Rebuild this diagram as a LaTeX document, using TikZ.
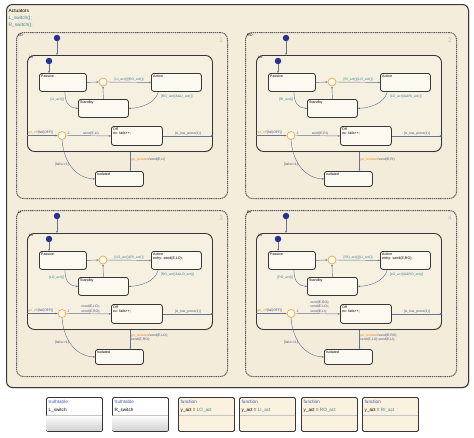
\documentclass[tikz,border=0pt]{standalone}
\usepackage{fontspec}
\setmainfont{Liberation Sans}
\usetikzlibrary{arrows.meta,shadows}
\definecolor{outerfill}{RGB}{245,237,220}
\definecolor{panelfill}{RGB}{244,236,218}
\definecolor{lonefill}{RGB}{246,240,225}
\definecolor{statefill}{RGB}{252,249,240}
\definecolor{sborder}{RGB}{55,55,55}
\definecolor{trcol}{RGB}{105,115,150}
\definecolor{condcol}{RGB}{55,135,145}
\definecolor{actcol}{RGB}{75,85,125}
\definecolor{evcol}{RGB}{225,145,35}
\definecolor{dotcol}{RGB}{40,50,145}
\definecolor{junccol}{RGB}{230,160,60}
\definecolor{juncfill}{RGB}{255,250,232}
\definecolor{numcol}{RGB}{195,195,195}
\definecolor{kwblue}{RGB}{60,90,170}
\definecolor{funcfill}{RGB}{250,241,222}
\tikzset{
 outerbox/.style={draw=sborder, line width=1pt, fill=outerfill, rounded corners=6pt, anchor=north west, inner sep=0pt,
   drop shadow={shadow xshift=0.8pt, shadow yshift=-0.8pt, opacity=0.35}},
 panelbox/.style={draw=sborder!80, dash pattern=on 1.4pt off 0.7pt, line width=1pt, fill=panelfill, rounded corners=7pt, anchor=north west, inner sep=0pt},
 lonebox/.style={draw=sborder, line width=0.9pt, fill=lonefill, rounded corners=7pt, anchor=north west, inner sep=0pt,
   drop shadow={shadow xshift=0.6pt, shadow yshift=-0.6pt, opacity=0.3}},
 sfstate/.style={draw=sborder, line width=0.8pt, fill=statefill, rounded corners=2.5pt, anchor=north west, inner sep=0pt,
   drop shadow={shadow xshift=0.5pt, shadow yshift=-0.5pt, opacity=0.3}},
 sname/.style={anchor=north west, inner sep=1pt, xshift=1pt, yshift=-0.3pt, font=\fontsize{3.6}{4.4}\selectfont, align=left, text=black},
 lab/.style={font=\fontsize{3.4}{4.2}\selectfont, inner sep=0.6pt, align=left},
 tr/.style={draw=trcol, line width=0.45pt, -{Stealth[length=2.2pt,width=1.8pt]}},
 junc/.style={circle, draw=junccol, line width=0.6pt, fill=juncfill, minimum size=8pt, inner sep=0pt},
 dflt/.style={circle, fill=dotcol, minimum size=6.5pt, inner sep=0pt},
 numlab/.style={font=\fontsize{7}{8}\selectfont, text=numcol, inner sep=0pt},
 hdr/.style={font=\fontsize{4.8}{5.6}\selectfont, inner sep=0pt, anchor=west},
 ttb/.style={draw=sborder, line width=0.9pt, fill=white, rounded corners=1.5pt, anchor=north west, inner sep=0pt},
 fnb/.style={draw=sborder, line width=0.9pt, fill=funcfill, rounded corners=1.5pt, anchor=north west, inner sep=0pt},
 bt/.style={font=\fontsize{4.6}{5.4}\selectfont, inner sep=0pt, anchor=west},
 sepline/.style={draw=gray!45, line width=0.4pt}
}
% #1 dx, #2 dy, #3 name, #4 number, #5 top cond, #6 active->standby cond, #7 passive->standby cond, #8 active text, #9 send label; \lowlab lower label
\newcommand\sfpanel[9]{%
\begin{scope}[shift={(#1,#2)}]
\node[panelbox, minimum width=211pt, minimum height=166pt, label={[sname]north west:#3}] (#3-p) at (16,32) {};
\node[numlab] (#3-n) at (221,40) {#4};
\node[lonebox, minimum width=185pt, minimum height=96pt, label={[sname]north west:L1}] (#3-L1) at (27,55) {};
\node[dflt] (#3-d0) at (57,38) {};
\node[dflt] (#3-d1) at (49,61) {};
\node[sfstate, minimum width=47pt, minimum height=18pt, label={[sname]north west:Passive}] (#3-pas) at (39,73) {};
\node[sfstate, minimum width=50pt, minimum height=18pt, label={[sname]north west:{#8}}] (#3-act) at (151,73) {};
\node[sfstate, minimum width=50pt, minimum height=18pt, label={[sname]north west:Standby}] (#3-stb) at (78,99) {};
\node[sfstate, minimum width=51pt, minimum height=19pt, label={[sname]north west:{Off\\ex: fails++;}}] (#3-off) at (111,126) {};
\node[sfstate, minimum width=48pt, minimum height=15pt, label={[sname]north west:Isolated}] (#3-iso) at (95,171) {};
\node[junc] (#3-j1) at (103,82) {};
\node[junc] (#3-j2) at (62,135.5) {};
% default transitions
\draw[tr] (#3-d0) -- (#3-d0 |- #3-L1.north);
\draw[tr] (#3-d1) -- (#3-d1 |- #3-pas.north);
% L1 internal
\draw[tr] (#3-pas.east) -- (#3-j1.west);
\draw[tr] (#3-stb.north) -- (#3-j1.south);
\draw[tr] (#3-j1.east) -- node[lab, above, text=condcol] {#5} (#3-act.west);
\draw[tr] ([xshift=2pt]#3-pas.south) .. controls (65,104) and (70,108) .. node[lab, pos=0.25, left, xshift=-1pt, text=condcol] {#7} (#3-stb.west);
\draw[tr] ([xshift=-18pt]#3-act.south) .. controls (155,104) and (140,108) .. node[lab, pos=0.1, right, xshift=3pt, yshift=-1pt, text=condcol] {#6} (#3-stb.east);
% off row
\draw[tr] (#3-L1.west |- #3-j2) -- node[lab, above, pos=0.45, text=actcol] {\textcolor{evcol}{go\_off}[fail(OFF)]} (#3-j2.west);
\draw[tr] (#3-j2.east) -- node[lab, above, pos=0.55, text=actcol] {#9} (#3-off.west);
\node[lab, text=actcol] (#3-o2) at (68.5,133.5) {2};
\draw[tr] (#3-off.east) -- node[lab, above, text=actcol] {[is\_low\_press(1)]} (#3-off.east -| #3-L1.east);
% isolation
\draw[tr] ([xshift=11pt]#3-iso.north |- #3-L1.south) -- node[lab, right, pos=0.4, text=actcol] {\lowlab} ([xshift=11pt]#3-iso.north);
\draw[tr] (#3-j2.south) .. controls (64,165) and (78,178.5) .. node[lab, left, pos=0.4, text=actcol] {[fails==1]} (#3-iso.west);
\end{scope}}
\begin{document}
\begin{tikzpicture}[x=1pt,y=-1pt]
\useasboundingbox (0,0) rectangle (474,437);
\node[outerbox, minimum width=462pt, minimum height=383pt] (actu) at (6,4) {};
\node[hdr] (h1) at (8.5,11) {Actuators};
\node[hdr, text=condcol] (h2) at (8.5,18) {L\_switch();};
\node[hdr, text=condcol] (h3) at (8.5,25) {R\_switch();};

\def\lowlab{\textcolor{evcol}{go\_isolated}/send(E,LI)}
\sfpanel{0}{0}{LO}{1}{[LI\_act()||RO\_act()]}{[RO\_act()\&\&LI\_act()]}{[LI\_act()]}{Active}{send(E,LI)}
\def\lowlab{\textcolor{evcol}{go\_isolated}/send(E,RI)}
\sfpanel{229}{0}{RO}{2}{[RI\_act()||LO\_act()]}{[LO\_act()\&\&RI\_act()]}{[RI\_act()]}{Active}{send(E,RI)}
\def\lowlab{\textcolor{evcol}{go\_isolated}/send(E,LO);\\send(E,RO);}
\sfpanel{0}{178}{LI}{3}{[LO\_act()||RI\_act()]}{[RO\_act()\&\&LO\_act()]}{[LO\_act()]}{Active\\entry: send(E,LO);}{send(E,LO);\\send(E,RO);}
\def\lowlab{\textcolor{evcol}{go\_isolated}/send(E,RO);\\send(E,LO);send(E,LI);}
\sfpanel{229}{178}{RI}{4}{[RO\_act()||LI\_act()]}{[LO\_act()\&\&RO\_act()]}{[RO\_act()]}{Active\\entry: send(E,RO);}{send(E,RO);\\send(E,LO);\\send(E,LI);}

% bottom boxes
\node[ttb, minimum width=56pt, minimum height=34pt] (tt1) at (46,397) {};
\shade[top color=white, bottom color=gray!35] (46.5,415) rectangle (101.5,430.5);
\draw[sepline] (46.5,415) -- (101.5,415);
\node[bt, text=kwblue] (tt1a) at (48.5,401.5) {truthtable};
\node[bt] (tt1b) at (48.5,410) {L\_switch};

\node[ttb, minimum width=56pt, minimum height=34pt] (tt2) at (112,397) {};
\shade[top color=white, bottom color=gray!35] (112.5,415) rectangle (167.5,430.5);
\draw[sepline] (112.5,415) -- (167.5,415);
\node[bt, text=kwblue] (tt2a) at (114.5,401.5) {truthtable};
\node[bt] (tt2b) at (114.5,410) {R\_switch};

\node[fnb, minimum width=56pt, minimum height=34pt] (f1) at (178,397) {};
\draw[sepline] (178.5,415) -- (233.5,415);
\node[bt, text=kwblue] (f1a) at (180.5,401.5) {function};
\node[bt] (f1b) at (180.5,410) {y\_act = \textcolor{condcol}{LO\_act}};

\node[fnb, minimum width=56pt, minimum height=34pt] (f2) at (239,397) {};
\draw[sepline] (239.5,415) -- (294.5,415);
\node[bt, text=kwblue] (f2a) at (241.5,401.5) {function};
\node[bt] (f2b) at (241.5,410) {y\_act = \textcolor{condcol}{LI\_act}};

\node[fnb, minimum width=56pt, minimum height=34pt] (f3) at (301,397) {};
\draw[sepline] (301.5,415) -- (356.5,415);
\node[bt, text=kwblue] (f3a) at (303.5,401.5) {function};
\node[bt] (f3b) at (303.5,410) {y\_act = \textcolor{condcol}{RO\_act}};

\node[fnb, minimum width=56pt, minimum height=34pt] (f4) at (362,397) {};
\draw[sepline] (362.5,415) -- (417.5,415);
\node[bt, text=kwblue] (f4a) at (364.5,401.5) {function};
\node[bt] (f4b) at (364.5,410) {y\_act = \textcolor{condcol}{RI\_act}};
\end{tikzpicture}
\end{document}
